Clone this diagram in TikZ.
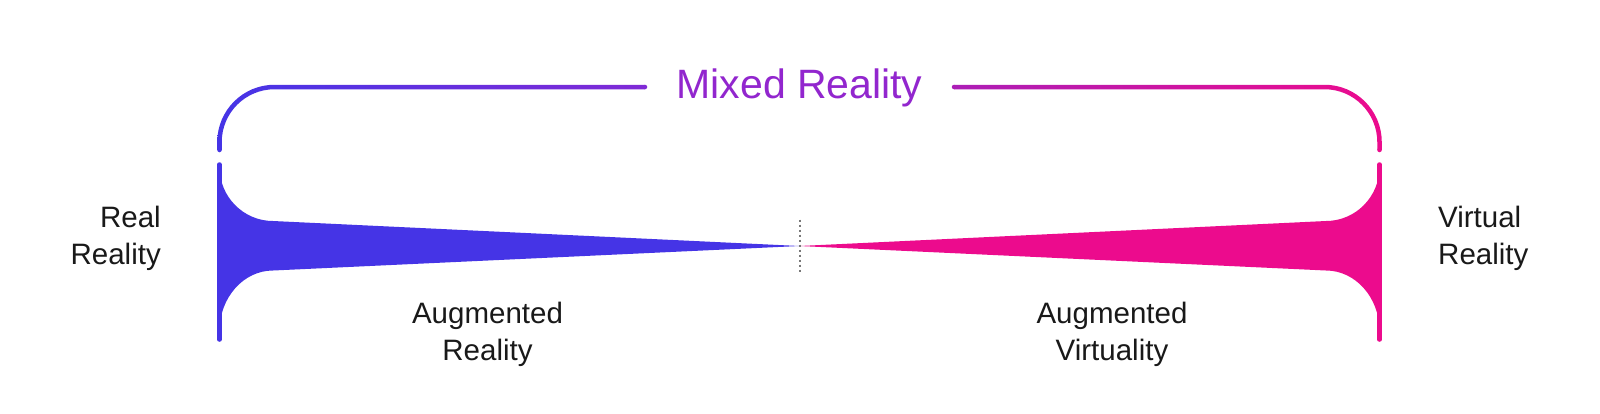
\documentclass[tikz,border=0pt]{standalone}
\usepackage{fontspec}
\setmainfont{Liberation Sans}
\definecolor{blueC}{RGB}{69,52,230}
\definecolor{pinkC}{RGB}{236,11,141}
\definecolor{lmid}{RGB}{128,42,214}
\definecolor{rmid}{RGB}{172,30,182}
\definecolor{titleC}{RGB}{146,38,206}
\definecolor{dotC}{RGB}{120,120,120}
\definecolor{txtC}{RGB}{25,25,25}
\tikzset{
  lbl/.style={inner sep=0pt, text=txtC, font=\fontsize{29.5}{36.5}\selectfont},
  ttl/.style={inner sep=0pt, text=titleC, font=\fontsize{41}{48}\selectfont},
}
\begin{document}
\begin{tikzpicture}[x=1pt,y=-1pt]
\useasboundingbox (0,0) rectangle (1600,413);
\fill[white] (0,0) rectangle (1600,413);

% left bracket half
\shade[left color=blueC, right color=lmid]
  (217.25,150) -- (217.25,142) .. controls (217.25,110.4) and (242.9,84.75) .. (274.5,84.75)
  -- (645,84.75) -- (645,89.25) -- (274.5,89.25)
  .. controls (245.4,89.25) and (221.75,112.9) .. (221.75,142) -- (221.75,150) -- cycle;
\fill[blueC] (219.5,150) circle (2.25);
\fill[lmid] (645,87) circle (2.25);

% right bracket half
\shade[left color=rmid, right color=pinkC]
  (1381.75,150) -- (1381.75,142) .. controls (1381.75,110.4) and (1356.1,84.75) .. (1324.5,84.75)
  -- (954,84.75) -- (954,89.25) -- (1324.5,89.25)
  .. controls (1353.6,89.25) and (1377.25,112.9) .. (1377.25,142) -- (1377.25,150) -- cycle;
\fill[pinkC] (1379.5,150) circle (2.25);
\fill[rmid] (954,87) circle (2.25);

% left wedge
\fill[blueC] (219.5,167) .. controls (219.5,196.8) and (243.5,221) .. (273,221)
  -- (799.5,246) -- (273,270.5)
  .. controls (243.5,270.5) and (219.5,297.6) .. (219.5,331) -- cycle;
\draw[blueC, line width=4.5pt, line cap=round] (219.5,164.5) -- (219.5,339.5);

% right wedge
\fill[pinkC] (1379.5,167) .. controls (1379.5,196.8) and (1355.5,221) .. (1326,221)
  -- (799.5,246) -- (1326,270.5)
  .. controls (1355.5,270.5) and (1379.5,297.6) .. (1379.5,331) -- cycle;
\draw[pinkC, line width=4.5pt, line cap=round] (1379.5,164.5) -- (1379.5,339.5);

% centre dotted marker
\draw[dotC, line width=2pt, dash pattern=on 2.2pt off 2.8pt] (799.5,219.5) -- (799.5,272);

% texts (base anchor = baseline of the last line)
\node[ttl, anchor=base] (mr) at (799.5,98.3) {Mixed Reality};
\node[lbl, anchor=base east, align=right] (rr) at (161,264) {Real\\Reality};
\node[lbl, anchor=base, align=center] (ar) at (487.5,360) {Augmented\\Reality};
\node[lbl, anchor=base, align=center] (av) at (1112,360) {Augmented\\Virtuality};
\node[lbl, anchor=base west, align=left] (vr) at (1438,264) {Virtual\\Reality};
\end{tikzpicture}
\end{document}
